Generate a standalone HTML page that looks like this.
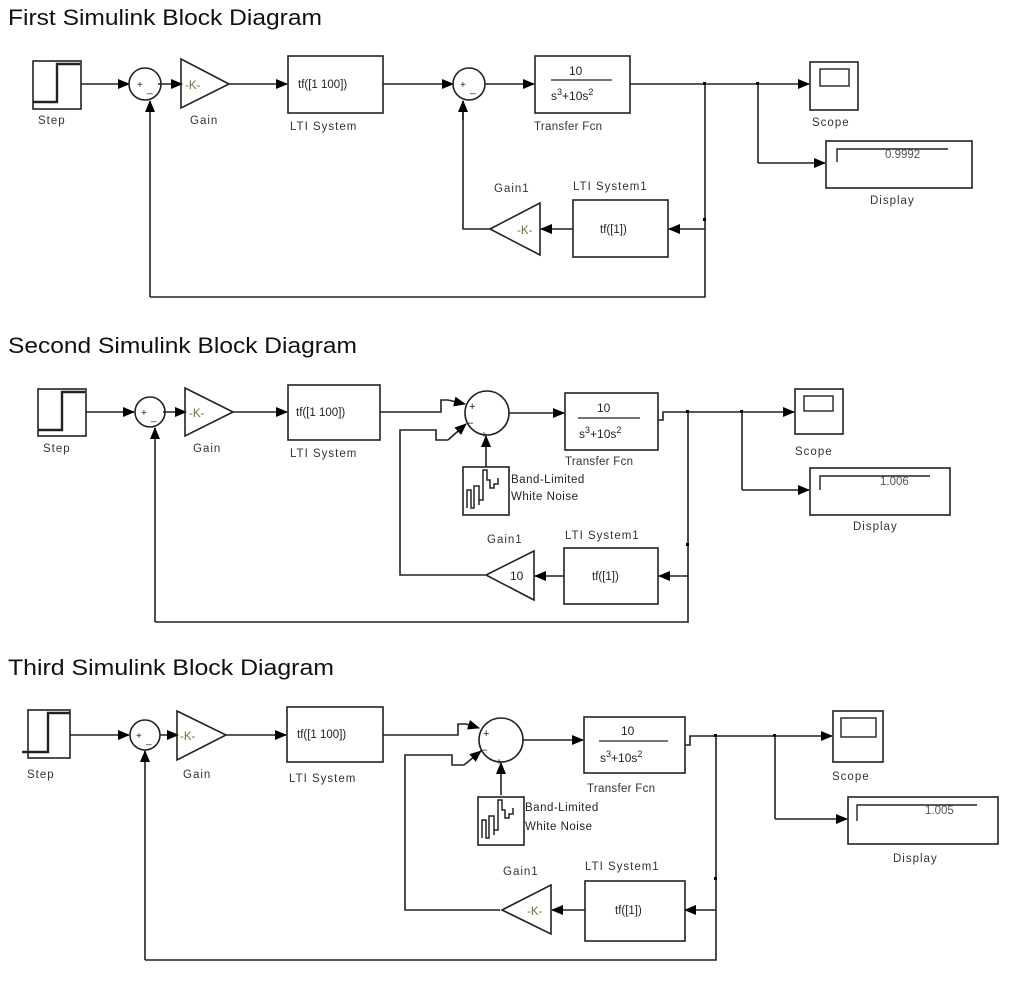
<!DOCTYPE html>
<html><head><meta charset="utf-8"><style>
html,body{margin:0;padding:0;background:#fff;}
svg{display:block;}
.t{font-family:"Liberation Sans",sans-serif;font-size:22px;fill:#111;}
.l{font-family:"Liberation Sans",sans-serif;font-size:11.5px;fill:#333;letter-spacing:1px;}
.b{font-family:"Liberation Sans",sans-serif;font-size:11.5px;fill:#222;}
.n{font-family:"Liberation Sans",sans-serif;font-size:12px;fill:#222;}
line,polyline,rect,circle,path{stroke:#222;stroke-width:1.6;fill:none;}
.ar{fill:#000;stroke:none;}
</style></head><body>
<svg width="1024" height="982" viewBox="0 0 1024 982" xmlns="http://www.w3.org/2000/svg">
<defs>
<marker id="a" markerWidth="12" markerHeight="10" refX="11" refY="5" orient="auto" markerUnits="userSpaceOnUse"><path d="M0,0 L12,5 L0,10 Z" class="ar"/></marker>
</defs>

<!-- ============ Diagram 1 ============ -->
<text class="t" x="8" y="25" textLength="314" lengthAdjust="spacingAndGlyphs">First Simulink Block Diagram</text>
<rect x="33" y="61" width="48" height="48"/>
<polyline points="33,102 57,102 57,64 80,64" style="stroke-width:2.4"/>
<text class="l" x="38" y="124">Step</text>
<line x1="81" y1="84" x2="129" y2="84" marker-end="url(#a)"/>
<circle cx="145" cy="84" r="16"/>
<text class="b" x="137" y="88" style="font-size:10px">+</text><text class="b" x="147" y="92" style="font-size:10px">_</text>
<line x1="158" y1="84" x2="182" y2="84" marker-end="url(#a)"/>
<polygon points="181,59 229,84 181,108" style="stroke:#222;fill:none;stroke-width:1.6"/>
<text class="b" x="185" y="89" style="fill:#7a6a30">-K-</text>
<text class="l" x="190" y="124">Gain</text>
<line x1="229" y1="84" x2="287" y2="84" marker-end="url(#a)"/>
<rect x="288" y="56" width="95" height="57"/>
<text class="b" x="298" y="88">tf([1 100])</text>
<text class="l" x="290" y="130">LTI System</text>
<line x1="383" y1="84" x2="453" y2="84" marker-end="url(#a)"/>
<circle cx="469" cy="84" r="16"/>
<text class="b" x="460" y="88" style="font-size:10px">+</text><text class="b" x="470" y="92" style="font-size:10px">_</text>
<line x1="485" y1="84" x2="534" y2="84" marker-end="url(#a)"/>
<rect x="535" y="56" width="95" height="57"/>
<text class="n" x="569" y="75">10</text><line x1="551" y1="80" x2="612" y2="80" style="stroke-width:1.2"/>
<text class="n" x="551" y="100">s<tspan dy="-5" font-size="9">3</tspan><tspan dy="5">+10s</tspan><tspan dy="-5" font-size="9">2</tspan></text>
<text class="l" x="534" y="130" style="letter-spacing:0.3px">Transfer Fcn</text>
<line x1="630" y1="84" x2="809" y2="84" marker-end="url(#a)"/>
<rect x="810" y="62" width="48" height="48"/>
<rect x="820" y="69" width="29" height="17" style="stroke-width:1.4"/>
<text class="l" x="812" y="126">Scope</text>
<polyline points="758,84 758,163"/><line x1="758" y1="163" x2="825" y2="163" marker-end="url(#a)"/>
<rect x="826" y="141" width="146" height="47"/>
<polyline points="837,162 837,149 948,149" style="stroke-width:1.4"/>
<text class="b" x="885" y="158" style="fill:#555">0.9992</text>
<text class="l" x="870" y="204">Display</text>
<polyline points="705,84 705,297 150,297"/>
<line x1="150" y1="297" x2="150" y2="101" marker-end="url(#a)"/>
<line x1="705" y1="229" x2="669" y2="229" marker-end="url(#a)"/>
<rect x="573" y="200" width="95" height="57"/>
<text class="b" x="600" y="233">tf([1])</text>
<text class="l" x="573" y="190">LTI System1</text>
<line x1="573" y1="229" x2="541" y2="229" marker-end="url(#a)"/>
<polygon points="540,203 490,229 540,255" style="stroke:#222;fill:none;stroke-width:1.6"/>
<text class="b" x="517" y="234" style="fill:#7a6a30">-K-</text>
<text class="l" x="494" y="192">Gain1</text>
<polyline points="490,229 463,229 463,101"/>
<line x1="463" y1="120" x2="463" y2="101" marker-end="url(#a)"/>
<rect x="703" y="82" width="3" height="3" class="ar"/><rect x="756" y="82" width="3" height="3" class="ar"/><rect x="703" y="218" width="3" height="3" class="ar"/>

<!-- ============ Diagram 2 ============ -->
<text class="t" x="8" y="353" textLength="349" lengthAdjust="spacingAndGlyphs">Second Simulink Block Diagram</text>
<rect x="38" y="389" width="48" height="47"/>
<polyline points="38,430 62,430 62,392 85,392" style="stroke-width:2.4"/>
<text class="l" x="43" y="452">Step</text>
<line x1="86" y1="412" x2="134" y2="412" marker-end="url(#a)"/>
<circle cx="150" cy="412" r="15"/>
<text class="b" x="141" y="416" style="font-size:10px">+</text><text class="b" x="151" y="420" style="font-size:10px">_</text>
<line x1="163" y1="412" x2="186" y2="412" marker-end="url(#a)"/>
<polygon points="185,388 233,412 185,436" style="stroke:#222;fill:none;stroke-width:1.6"/>
<text class="b" x="189" y="417" style="fill:#7a6a30">-K-</text>
<text class="l" x="193" y="452">Gain</text>
<line x1="233" y1="412" x2="287" y2="412" marker-end="url(#a)"/>
<rect x="288" y="385" width="92" height="55"/>
<text class="b" x="296" y="416">tf([1 100])</text>
<text class="l" x="290" y="457">LTI System</text>
<polyline points="380,412 441,412 441,400 448,400"/>
<line x1="448" y1="400" x2="465" y2="404" marker-end="url(#a)"/>
<circle cx="487" cy="413" r="22"/>
<text class="b" x="469" y="410" style="font-size:11px">+</text><text class="b" x="467" y="426" style="font-size:11px">–</text><text class="b" x="481" y="438" style="font-size:10px">+</text>
<polyline points="485,575 400,575 400,430 436,430 436,440 448,440"/>
<line x1="448" y1="440" x2="466" y2="424" marker-end="url(#a)"/>
<line x1="509" y1="413" x2="564" y2="413" marker-end="url(#a)"/>
<rect x="565" y="393" width="93" height="57"/>
<text class="n" x="597" y="412">10</text><line x1="578" y1="418" x2="640" y2="418" style="stroke-width:1.2"/>
<text class="n" x="579" y="438">s<tspan dy="-5" font-size="9">3</tspan><tspan dy="5">+10s</tspan><tspan dy="-5" font-size="9">2</tspan></text>
<text class="l" x="565" y="465" style="letter-spacing:0.3px">Transfer Fcn</text>
<polyline points="658,420 663,420 663,412 794,412" marker-end="url(#a)"/>
<rect x="795" y="389" width="48" height="45"/>
<rect x="804" y="396" width="29" height="15" style="stroke-width:1.4"/>
<text class="l" x="795" y="455">Scope</text>
<polyline points="742,412 742,490"/><line x1="742" y1="490" x2="809" y2="490" marker-end="url(#a)"/>
<rect x="810" y="468" width="140" height="47"/>
<polyline points="820,490 820,476 930,476" style="stroke-width:1.4"/>
<text class="b" x="880" y="485" style="fill:#555">1.006</text>
<text class="l" x="853" y="530">Display</text>
<line x1="486" y1="467" x2="486" y2="436" marker-end="url(#a)"/>
<rect x="463" y="467" width="46" height="48"/>
<path d="M467,508 L467,490 L471,490 L471,508 L474,508 L474,486 L479,486 L479,505 M479,500 L483,500 L483,470 L487,470 L487,480 L490,480 L490,488 L494,488 L494,484 L498,484 L498,478" style="stroke-width:1.5"/>
<text class="b" x="511" y="483" style="letter-spacing:0.5px">Band-Limited</text>
<text class="b" x="511" y="500" style="letter-spacing:0.5px">White Noise</text>
<polyline points="688,412 688,622 155,622"/>
<line x1="155" y1="622" x2="155" y2="428" marker-end="url(#a)"/>
<line x1="688" y1="576" x2="659" y2="576" marker-end="url(#a)"/>
<rect x="564" y="548" width="94" height="56"/>
<text class="b" x="592" y="580">tf([1])</text>
<text class="l" x="565" y="539">LTI System1</text>
<line x1="564" y1="576" x2="535" y2="576" marker-end="url(#a)"/>
<polygon points="534,551 486,575 534,600" style="stroke:#222;fill:none;stroke-width:1.6"/>
<text class="n" x="510" y="580">10</text>
<text class="l" x="487" y="543">Gain1</text>
<rect x="686" y="410" width="3" height="3" class="ar"/><rect x="740" y="410" width="3" height="3" class="ar"/><rect x="686" y="543" width="3" height="3" class="ar"/>

<!-- ============ Diagram 3 ============ -->
<text class="t" x="8" y="675" textLength="326" lengthAdjust="spacingAndGlyphs">Third Simulink Block Diagram</text>
<rect x="28" y="710" width="42" height="48"/>
<polyline points="22,752 48,752 48,713 70,713" style="stroke-width:2.4"/>
<text class="l" x="27" y="778">Step</text>
<line x1="70" y1="735" x2="129" y2="735" marker-end="url(#a)"/>
<circle cx="145" cy="735" r="15"/>
<text class="b" x="136" y="739" style="font-size:10px">+</text><text class="b" x="146" y="743" style="font-size:10px">_</text>
<line x1="160" y1="735" x2="178" y2="735" marker-end="url(#a)"/>
<polygon points="177,711 226,735 177,760" style="stroke:#222;fill:none;stroke-width:1.6"/>
<text class="b" x="180" y="740" style="fill:#7a6a30">-K-</text>
<text class="l" x="183" y="778">Gain</text>
<line x1="226" y1="735" x2="286" y2="735" marker-end="url(#a)"/>
<rect x="287" y="707" width="96" height="55"/>
<text class="b" x="297" y="738">tf([1 100])</text>
<text class="l" x="289" y="782">LTI System</text>
<polyline points="383,735 458,735 458,724 466,724"/>
<line x1="466" y1="724" x2="479" y2="728" marker-end="url(#a)"/>
<circle cx="501" cy="740" r="22"/>
<text class="b" x="483" y="737" style="font-size:11px">+</text><text class="b" x="481" y="753" style="font-size:11px">–</text><text class="b" x="496" y="765" style="font-size:10px">+</text>
<polyline points="500,910 405,910 405,755 452,755 452,765 464,765"/>
<line x1="464" y1="765" x2="481" y2="751" marker-end="url(#a)"/>
<line x1="523" y1="740" x2="583" y2="740" marker-end="url(#a)"/>
<rect x="584" y="717" width="101" height="56"/>
<text class="n" x="621" y="735">10</text><line x1="599" y1="741" x2="668" y2="741" style="stroke-width:1.2"/>
<text class="n" x="600" y="762">s<tspan dy="-5" font-size="9">3</tspan><tspan dy="5">+10s</tspan><tspan dy="-5" font-size="9">2</tspan></text>
<text class="l" x="587" y="792" style="letter-spacing:0.3px">Transfer Fcn</text>
<polyline points="685,745 690,745 690,736 832,736" marker-end="url(#a)"/>
<rect x="833" y="711" width="50" height="51"/>
<rect x="841" y="718" width="35" height="19" style="stroke-width:1.4"/>
<text class="l" x="832" y="780">Scope</text>
<polyline points="775,736 775,819"/><line x1="775" y1="819" x2="847" y2="819" marker-end="url(#a)"/>
<rect x="848" y="797" width="150" height="47"/>
<polyline points="857,821 857,805 977,805" style="stroke-width:1.4"/>
<text class="b" x="925" y="814" style="fill:#555">1.005</text>
<text class="l" x="893" y="862">Display</text>
<line x1="501" y1="795" x2="501" y2="763" marker-end="url(#a)"/>
<rect x="478" y="797" width="46" height="48"/>
<path d="M482,838 L482,820 L486,820 L486,838 L489,838 L489,816 L494,816 L494,835 M494,830 L498,830 L498,800 L502,800 L502,810 L505,810 L505,818 L509,818 L509,814 L513,814 L513,808" style="stroke-width:1.5"/>
<text class="b" x="525" y="811" style="letter-spacing:0.5px">Band-Limited</text>
<text class="b" x="525" y="830" style="letter-spacing:0.5px">White Noise</text>
<polyline points="716,736 716,960 145,960"/>
<line x1="145" y1="960" x2="145" y2="751" marker-end="url(#a)"/>
<line x1="716" y1="910" x2="685" y2="910" marker-end="url(#a)"/>
<rect x="585" y="881" width="100" height="60"/>
<text class="b" x="615" y="914">tf([1])</text>
<text class="l" x="585" y="870">LTI System1</text>
<line x1="585" y1="910" x2="552" y2="910" marker-end="url(#a)"/>
<polygon points="551,885 502,910 551,934" style="stroke:#222;fill:none;stroke-width:1.6"/>
<text class="b" x="527" y="915" style="fill:#7a6a30">-K-</text>
<text class="l" x="503" y="875">Gain1</text>
<rect x="714" y="734" width="3" height="3" class="ar"/><rect x="773" y="734" width="3" height="3" class="ar"/><rect x="714" y="877" width="3" height="3" class="ar"/>
</svg>
</body></html>
